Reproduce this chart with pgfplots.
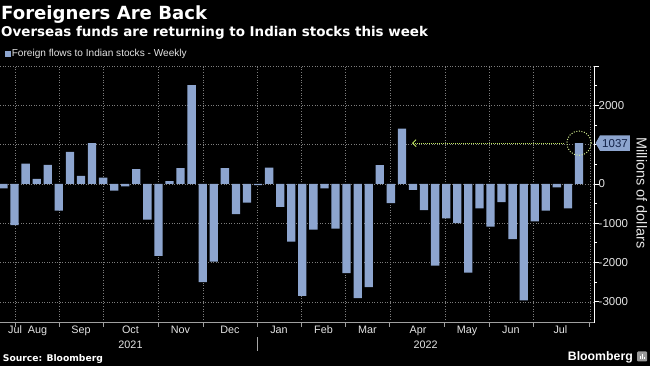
\documentclass[border=0pt]{standalone}
\usepackage{fontspec}
\setmainfont{Liberation Sans}
\newfontfamily\dvs{DejaVu Sans}
\usepackage{pgfplots}
\usepackage{pgfplotstable}
\pgfplotsset{compat=1.18}
\usetikzlibrary{shapes.symbols,arrows.meta}
\definecolor{barcol}{RGB}{141,165,207}
\definecolor{gridcol}{RGB}{125,125,125}
\definecolor{hl}{RGB}{190,228,95}
\definecolor{navy}{RGB}{20,35,72}
\definecolor{lbl}{RGB}{228,228,228}

\pgfplotstableread{
x y
0 -110
1 -1050
2 515
3 130
4 485
5 -680
6 815
7 205
8 1035
9 160
10 -170
11 -60
12 375
13 -910
14 -1830
15 70
16 400
17 2515
18 -2500
19 -1975
20 400
21 -765
22 -475
23 -30
24 415
25 -585
26 -1465
27 -2850
28 -1160
29 -110
30 -1135
31 -2270
32 -2905
33 -2625
34 480
35 -490
36 1405
37 -150
38 -665
39 -2075
40 -875
41 -995
42 -2255
43 -620
44 -1085
45 -460
46 -1405
47 -2965
48 -950
49 -680
50 -90
51 -620
52 1037
}\flows

\begin{document}
\begin{tikzpicture}
\fill[black] (0bp,0bp) rectangle (650bp,366bp);
\useasboundingbox (0bp,0bp) rectangle (650bp,366bp);
\begin{axis}[
  at={(0bp,43.3bp)}, anchor=south west,
  scale only axis, width=594.5bp, height=256.7bp,
  xmin=-0.316, xmax=53.4, ymin=-3530, ymax=3000,
  clip=false,
  axis x line*=bottom, axis y line*=right,
  x axis line style={draw=gray!75, line width=1.4bp, -},
  y axis line style={draw=white, line width=0.8bp, -},
  tick align=outside,
  major tick length=4bp, minor tick length=2bp,
  every x tick/.append style={draw=gray!75, line width=1bp},
  every y tick/.append style={draw=white, line width=0.8bp},
  xtick={1.1,5.04,9.02,13.99,18.05,22.97,26.94,30.92,34.92,39.89,43.89,47.87,52.99},
  xticklabels={},
  extra x ticks={1.04,3.07,7.0,11.47,15.99,20.46,24.89,28.91,32.89,37.45,41.88,45.85,50.32},
  extra x tick labels={Jul,Aug,Sep,Oct,Nov,Dec,Jan,Feb,Mar,Apr,May,Jun,Jul},
  extra x tick style={grid=none, major tick length=0pt},
  xticklabel style={anchor=base, yshift=-10.6bp, inner sep=0pt, font=\fontsize{10.8bp}{12bp}\selectfont, text=lbl},
  ytick={-3000,-2000,-1000,0,1000,2000,3000},
  yticklabels={-3000,-2000,-1000,0,,2000,},
  minor y tick num=1,
  yticklabel style={anchor=west, inner sep=0pt, font=\fontsize{11.5bp}{13bp}\selectfont, text=lbl},
  xmajorgrids, ymajorgrids,
  major grid style={gridcol, line width=0.7bp, dash pattern=on 1bp off 1.6bp},
  legend style={at={(axis description cs:0.0084,1.0479)}, anchor=west, draw=none, fill=none,
    inner sep=0pt, outer sep=0pt, font=\fontsize{10.1bp}{12bp}\selectfont, text=lbl,
    nodes={inner sep=0.6bp}},
  legend image code/.code={\fill[barcol] (0bp,-3bp) rectangle (6.2bp,3.2bp);},
]
\addplot[ybar, bar width=8.3bp, fill=barcol, draw=none] table[x=x,y=y]{\flows};
\addlegendentry{Foreign flows to Indian stocks - Weekly}
\draw[hl, line width=0.9bp, dash pattern=on 0.9bp off 1.1bp, {Straight Barb[length=3.5bp,width=7bp]}-] (axis cs:36.91,1037) -- (axis cs:50.73,1037);
\draw[hl!70!white, line width=1bp, dash pattern=on 1bp off 1.6bp] (axis cs:52,1037) circle[radius=12.2bp];
\node[signal, signal to=west, signal pointer angle=120, fill=barcol, text=navy, inner xsep=2.2bp, inner ysep=1.5bp, minimum height=15.5bp, font=\fontsize{11.5bp}{13bp}\selectfont, anchor=west] at (axis cs:53.4,1037) [xshift=0.8bp] {1037};
\end{axis}
\node[anchor=base west, text=white, font=\dvs\bfseries\fontsize{18.1bp}{20bp}\selectfont, inner sep=0pt] at (1bp,346bp) {Foreigners Are Back};
\node[anchor=base west, text=white, font=\dvs\bfseries\fontsize{13.45bp}{15bp}\selectfont, inner sep=0pt] at (1bp,329.5bp) {Overseas funds are returning to Indian stocks this week};
\node[rotate=-90, text=lbl, font=\fontsize{14.5bp}{16bp}\selectfont, inner sep=0pt] at (641.7bp,173bp) {Millions of dollars};
\node[anchor=base, text=lbl, font=\fontsize{10.8bp}{12bp}\selectfont, inner sep=0pt] at (130.5bp,17.7bp) {2021};
\node[anchor=base, text=lbl, font=\fontsize{10.8bp}{12bp}\selectfont, inner sep=0pt] at (425.6bp,17.7bp) {2022};
\draw[gray!70, line width=0.8bp] (257.7bp,15bp) -- (257.7bp,29bp);
\node[anchor=base west, text=white, font=\dvs\bfseries\fontsize{9.2bp}{11bp}\selectfont, inner sep=0pt] at (2.7bp,5bp) {Source: Bloomberg};
\node[anchor=base east, text=white, font=\bfseries\fontsize{12.3bp}{14bp}\selectfont, inner sep=0pt] at (633bp,6bp) {Bloomberg};
\fill[gray!80, rounded corners=1bp] (637bp,4.5bp) rectangle (647bp,14.5bp);
\fill[white] (639.5bp,7bp) rectangle (640.7bp,10bp);
\fill[white] (641.7bp,7bp) rectangle (642.9bp,12bp);
\fill[white] (643.9bp,7bp) rectangle (645.1bp,9bp);
\end{tikzpicture}
\end{document}
